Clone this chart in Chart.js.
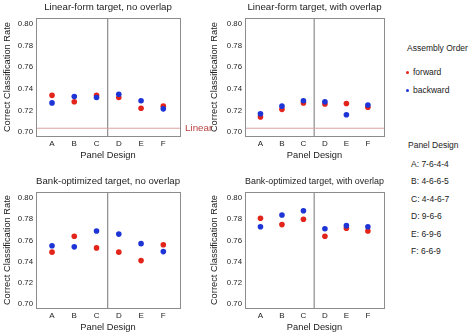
<!DOCTYPE html>
<html>
<head>
<meta charset="utf-8">
<script src="https://cdn.jsdelivr.net/npm/chart.js@4.4.1/dist/chart.umd.min.js"></script>
<style>
  body { margin: 0; width: 474px; height: 335px; background: #fff; position: relative; overflow: hidden;
         font-family: "Liberation Sans", Arial, sans-serif; }
  .panel { position: absolute; }
  .txt { position: absolute; white-space: nowrap; color: #222; font-size: 8.5px; line-height: 10px; }
  .dot { display: inline-block; width: 3px; height: 3px; border-radius: 50%; margin-right: 4px; vertical-align: 1px; }
</style>
</head>
<body>
<div class="panel" style="left:0;top:0;width:190px;height:165px"><canvas id="c1"></canvas></div>
<div class="panel" style="left:207px;top:0;width:187px;height:165px"><canvas id="c2"></canvas></div>
<div class="panel" style="left:0;top:174px;width:190px;height:161px"><canvas id="c3"></canvas></div>
<div class="panel" style="left:207px;top:174px;width:187px;height:161px"><canvas id="c4"></canvas></div>

<div class="txt" style="left:185px;top:122px;color:#b8413f;font-size:9.8px;line-height:12px">Linear</div>

<div class="txt" style="left:407px;top:43px">Assembly Order</div>
<div class="txt" style="left:406px;top:67px"><span class="dot" style="background:#e3241b"></span>forward</div>
<div class="txt" style="left:406px;top:85px"><span class="dot" style="background:#1d34d6"></span>backward</div>
<div class="txt" style="left:408px;top:140px">Panel Design</div>
<div id="designList"></div>

<script>
// panel designs (x categories) and y tick values
const designs = ['A', 'B', 'C', 'D', 'E', 'F'];
const designLabels = ['A: 7-6-4-4', 'B: 4-6-6-5', 'C: 4-4-6-7', 'D: 9-6-6', 'E: 6-9-6', 'F: 6-6-9'];
const yTicks = [0.70, 0.71, 0.72, 0.73, 0.74, 0.75, 0.76, 0.77, 0.78, 0.79, 0.80];
const linearRate = 0.7035;

// correct classification rates, forward / backward assembly order
const linNoOvFwd = [0.734, 0.728, 0.734, 0.732, 0.722, 0.724];
const linNoOvBwd = [0.727, 0.733, 0.732, 0.735, 0.729, 0.7215];
const linOvFwd = [0.714, 0.721, 0.727, 0.726, 0.7265, 0.723];
const linOvBwd = [0.717, 0.724, 0.729, 0.728, 0.716, 0.725];
const bankNoOvFwd = [0.749, 0.764, 0.753, 0.749, 0.741, 0.756];
const bankNoOvBwd = [0.755, 0.754, 0.769, 0.766, 0.757, 0.7495];
const bankOvFwd = [0.781, 0.775, 0.780, 0.764, 0.7715, 0.769];
const bankOvBwd = [0.773, 0.784, 0.788, 0.771, 0.774, 0.773];

const RED = '#e3241b';
const BLUE = '#1d34d6';
const X_MIN = -0.72, X_MAX = 5.75;
const Y_MIN = 0.6963, Y_MAX = 0.8056;
const FONT = '"Liberation Sans", Arial, sans-serif';

// legend list for the panel designs
const list = document.getElementById('designList');
designLabels.forEach((t, i) => {
  const d = document.createElement('div');
  d.className = 'txt';
  d.style.left = '411px';
  d.style.top = (159 + i * 17.4) + 'px';
  d.textContent = t;
  list.appendChild(d);
});

// grey box around the plot area
const frame = {
  id: 'frame',
  afterDatasetsDraw(chart) {
    const a = chart.chartArea, ctx = chart.ctx;
    ctx.save();
    ctx.strokeStyle = '#8c8c8c';
    ctx.lineWidth = 1;
    ctx.strokeRect(Math.round(a.left) + 0.5, Math.round(a.top) + 0.5,
      Math.round(a.right - a.left), Math.round(a.bottom - a.top));
    ctx.restore();
  }
};

const points = vals => vals.map((v, i) => ({ x: i, y: v }));

function makePanel(id, title, fwd, bwd, yWidth, padBottom, baseline) {
  const datasets = [
    { type: 'line', data: [{ x: 2.5, y: Y_MIN }, { x: 2.5, y: Y_MAX }], borderColor: '#8c8c8c',
      borderWidth: 1.2, pointRadius: 0, order: 4 },
    { label: 'forward', data: points(fwd), backgroundColor: RED, borderWidth: 0, pointRadius: 2.8, order: 2 },
    { label: 'backward', data: points(bwd), backgroundColor: BLUE, borderWidth: 0, pointRadius: 2.8, order: 1 }
  ];
  if (baseline) {
    datasets.push({ type: 'line', data: [{ x: X_MIN, y: linearRate }, { x: X_MAX, y: linearRate }],
      borderColor: '#dba3a3', borderWidth: 1, pointRadius: 0, order: 3 });
  }
  new Chart(document.getElementById(id), {
    type: 'scatter',
    data: { datasets },
    options: {
      responsive: true,
      maintainAspectRatio: false,
      animation: false,
      layout: { padding: { left: 0, right: 10, top: 0, bottom: padBottom } },
      plugins: {
        legend: { display: false },
        tooltip: { enabled: false },
        title: {
          display: true, text: title, fullSize: false, color: '#222',
          font: { size: 9.7, family: FONT, weight: 'normal' },
          padding: { top: 1.5, bottom: 5 }
        }
      },
      scales: {
        x: {
          type: 'linear', min: X_MIN, max: X_MAX,
          grid: { display: false, drawTicks: false }, border: { display: false },
          afterBuildTicks: s => { s.ticks = designs.map((d, i) => ({ value: i })); },
          afterFit: s => { s.height = 25; },
          ticks: { autoSkip: false, maxRotation: 0, padding: 2.5, color: '#222',
            font: { size: 8, family: FONT },
            callback: v => designs[v] },
          title: { display: true, text: 'Panel Design', color: '#222', padding: 0,
            font: { size: 9.3, family: FONT } }
        },
        y: {
          min: Y_MIN, max: Y_MAX,
          grid: { display: false, drawTicks: false }, border: { display: false },
          afterBuildTicks: s => { s.ticks = yTicks.map(v => ({ value: v })); },
          afterFit: s => { s.width = yWidth; },
          ticks: { padding: 3, color: '#222',
            font: { size: 7.8, family: FONT },
            callback: v => v.toFixed(2) },
          title: { display: true, text: 'Correct Classification Rate', color: '#222',
            padding: { top: 2, bottom: 0 },
            font: { size: 9.3, family: FONT } }
        }
      }
    },
    plugins: [frame]
  });
}

makePanel('c1', 'Linear-form target, no overlap', linNoOvFwd, linNoOvBwd, 36, 4, true);
makePanel('c2', 'Linear-form target, with overlap', linOvFwd, linOvBwd, 38, 4, true);
makePanel('c3', 'Bank-optimized target, no overlap', bankNoOvFwd, bankNoOvBwd, 36, 2, false);
makePanel('c4', 'Bank-optimized target, with overlap', bankOvFwd, bankOvBwd, 38, 2, false);
</script>
</body>
</html>
